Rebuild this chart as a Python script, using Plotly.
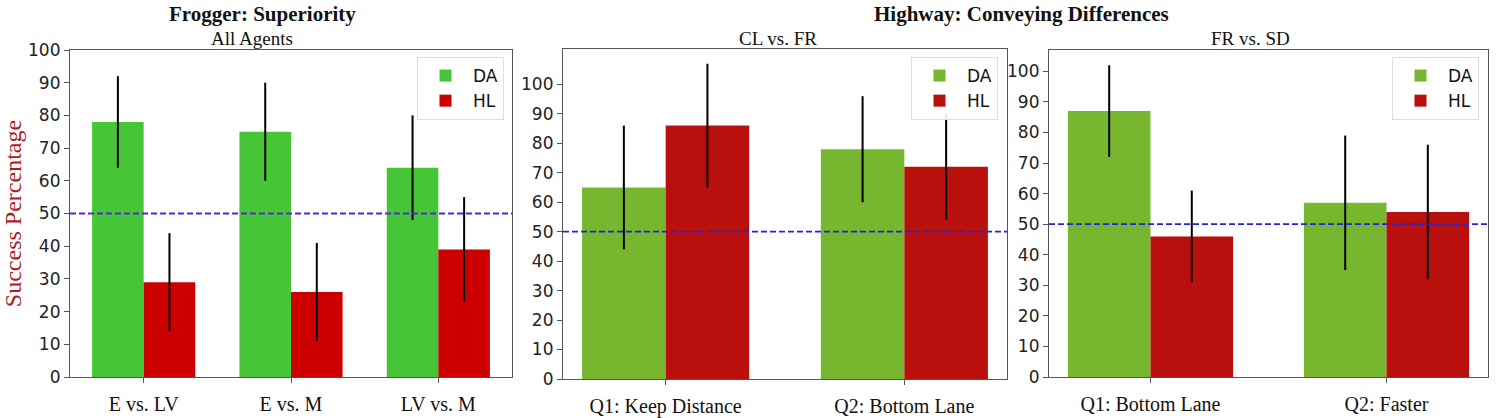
import plotly.graph_objects as go
from plotly.subplots import make_subplots

# Frogger: Superiority (All Agents)
frog_cats = ['E vs. LV', 'E vs. M', 'LV vs. M']
frog_da = [78, 75, 64]
frog_da_err = [14, 15, 16]
frog_hl = [29, 26, 39]
frog_hl_err = [15, 15, 16]

# Highway: CL vs. FR
clfr_cats = ['Q1: Keep Distance', 'Q2: Bottom Lane']
clfr_da = [65, 78]
clfr_da_err = [21, 18]
clfr_hl = [86, 72]
clfr_hl_err = [21, 18]

# Highway: FR vs. SD
frsd_cats = ['Q1: Bottom Lane', 'Q2: Faster']
frsd_da = [87, 57]
frsd_da_err = [15, 22]
frsd_hl = [46, 54]
frsd_hl_err = [15, 22]

chance = 50
yticks = list(range(0, 101, 10))

W, H = 1496, 418
SERIF = 'Liberation Serif'
SANS = 'DejaVu Sans'


def px_x(v):
    # screen pixel -> paper fraction
    return v / W


def px_y(v):
    return 1 - v / H


fig = make_subplots(rows=1, cols=3)

panels = [
    (frog_cats, frog_da, frog_da_err, frog_hl, frog_hl_err, '#46c636', '#cc0000', '#5a22e0',
     (70, 512), (50, 377), [0, 100], [-0.5, 2.5]),
    (clfr_cats, clfr_da, clfr_da_err, clfr_hl, clfr_hl_err, '#77b72f', '#b9100d', '#2222dd',
     (563, 1007), (49, 379), [0, 112], [-0.43, 1.43]),
    (frsd_cats, frsd_da, frsd_da_err, frsd_hl, frsd_hl_err, '#77b72f', '#b9100d', '#2222dd',
     (1049, 1488), (50, 377), [0, 107], [-0.43, 1.43]),
]

legend_right = [504, 998, 1479]

for i, (cats, da, da_err, hl, hl_err, cda, chl, cline, xr, yr, yrange, xrange_) in enumerate(panels):
    col = i + 1
    lg = 'legend' if i == 0 else f'legend{i + 1}'
    fig.add_trace(go.Bar(
        x=cats, y=da, name='DA', marker_color=cda, marker_line_width=0,
        error_y=dict(type='data', array=da_err, color='black', thickness=2, width=0),
        legend=lg,
    ), row=1, col=col)
    fig.add_trace(go.Bar(
        x=cats, y=hl, name='HL', marker_color=chl, marker_line_width=0,
        error_y=dict(type='data', array=hl_err, color='black', thickness=2, width=0),
        legend=lg,
    ), row=1, col=col)
    fig.add_hline(y=chance, line=dict(color=cline, width=1.8, dash='6px,3px'), row=1, col=col)

    fig.update_xaxes(
        domain=[px_x(xr[0]), px_x(xr[1])], range=xrange_, type='category', automargin=False,
        showline=True, mirror=True, linecolor='#555', linewidth=1.2,
        ticks='outside', ticklen=5, tickcolor='#555', showgrid=False,
        tickfont=dict(family=SERIF, size=20, color='#111'), ticklabelstandoff=4,
        row=1, col=col,
    )
    fig.update_yaxes(
        domain=[px_y(yr[1]), px_y(yr[0])], range=yrange, tickvals=yticks, automargin=False,
        showline=True, mirror=True, linecolor='#555', linewidth=1.2,
        ticks='outside', ticklen=5, tickcolor='#555', showgrid=False, zeroline=False,
        tickfont=dict(family=SANS, size=17, color='#222'),
        row=1, col=col,
    )
    fig.update_layout({lg: dict(
        x=px_x(legend_right[i]), xanchor='right', y=px_y(57), yanchor='top',
        bgcolor='rgba(255,255,255,0.9)', bordercolor='#ddd', borderwidth=1,
        font=dict(family=SANS, size=17, color='#111'),
        itemwidth=45, tracegroupgap=4,
    )})

fig.update_yaxes(
    title=dict(text='Success Percentage', font=dict(family=SERIF, size=24, color='#b01c1c'), standoff=7),
    row=1, col=1,
)

titles = [
    ('<b>Frogger: Superiority</b>', 262, 14, 21),
    ('All Agents', 252, 38, 19),
    ('<b>Highway: Conveying Differences</b>', 1022, 14, 21),
    ('CL vs. FR', 778, 38, 19),
    ('FR vs. SD', 1250, 38, 19),
]
for text, x, y, size in titles:
    fig.add_annotation(
        text=text, x=px_x(x), y=px_y(y), xref='paper', yref='paper',
        xanchor='center', yanchor='middle', showarrow=False,
        font=dict(family=SERIF, size=size, color='#111'),
    )

fig.update_layout(
    width=W, height=H,
    margin=dict(l=0, r=0, t=0, b=0),
    plot_bgcolor='white', paper_bgcolor='white',
    barmode='group', bargap=0.3, bargroupgap=0,
)

# drop the default page margin so the figure fills the window exactly
fig.write_html('out.html', config={'displayModeBar': False},
               post_script="document.body.style.margin='0';")
